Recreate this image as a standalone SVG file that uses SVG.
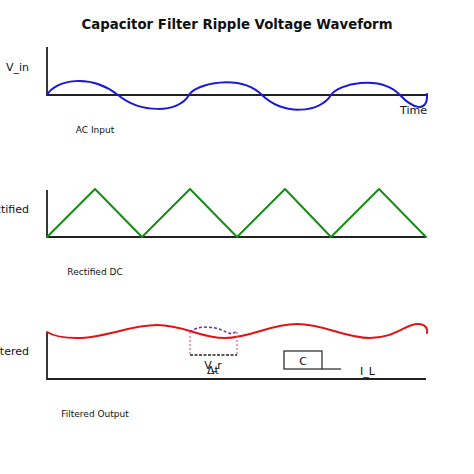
<svg xmlns="http://www.w3.org/2000/svg" width="474" height="474" viewBox="0 0 474 474">
<style>
text{font-family:"DejaVu Sans","Liberation Sans",sans-serif;fill:#111}
.title{font-size:13.3px;font-weight:bold}
.lab{font-size:11px}
.cap{font-size:9px}
.axis{stroke:#222;stroke-width:1.8;fill:none}
.wave{fill:none;stroke-width:2;stroke-linejoin:round;stroke-linecap:round}
</style>
<rect width="474" height="474" fill="#fff"/>
<text class="title" x="237" y="29" text-anchor="middle">Capacitor Filter Ripple Voltage Waveform</text>

<g id="panel-ac">
<path class="axis" d="M47,47 V95 H427"/>
<path class="wave" stroke="#1a1ad6" d="M47,95 C55,80 90,73 118,95 C140,113 178,114 189,95 C196,83 240,74 262,95 C284,116 320,113 331,95 C338,84 380,74 400,95 C412,108 428,114 427,94"/>
<text class="lab" x="29" y="71" text-anchor="end">V_in</text>
<text class="lab" x="427" y="114" text-anchor="end">Time</text>
<text class="cap" x="95" y="133" text-anchor="middle">AC Input</text>
</g>

<g id="panel-rect">
<path class="axis" d="M47,190 V237 H426"/>
<path class="wave" stroke="#1a8a1a" d="M47,237 L95,189 L142,237 L190,189 L237,237 L285,189 L331,237 L379,189 L426,237"/>
<text class="lab" x="29" y="213" text-anchor="end">Rectified</text>
<text class="cap" x="95" y="275" text-anchor="middle">Rectified DC</text>
</g>

<g id="panel-filt">
<path class="axis" d="M47,332 V379 H426"/>
<path class="wave" stroke="#e01414" d="M47,332 C55,337 65,338 77,338 C105,338 130,325 157,325 S200,338 225,338 S270,324 297,324 S345,338 370,338 S405,324 418,324 C425,324 428,328 427,333"/>
<path fill="none" stroke="#7a2a9a" stroke-width="1.5" stroke-dasharray="3,2" d="M190,332 C198,325 215,326 226,332 C232,335 235,333 237,330"/>
<path fill="none" stroke="#ff5577" stroke-width="1.2" stroke-dasharray="2,2" d="M190,332 V355 M237,332 V355"/>
<path fill="none" stroke="#222" stroke-width="1.5" stroke-dasharray="3,1.5" d="M190,355 H237"/>
<text class="lab" x="213" y="369" text-anchor="middle">V_r</text>
<text class="lab" x="213" y="374" text-anchor="middle">Δt</text>
<text class="lab" x="29" y="355" text-anchor="end">Filtered</text>
<text class="cap" x="95" y="417" text-anchor="middle">Filtered Output</text>
</g>

<g id="capacitor">
<rect x="284" y="351" width="38" height="18" fill="none" stroke="#333" stroke-width="1.3"/>
<path d="M322,369 H341" stroke="#333" stroke-width="1.3"/>
<text class="lab" x="303" y="365" text-anchor="middle">C</text>
</g>
<g id="load">
<text class="lab" x="360" y="375">I_L</text>
</g>
</svg>
